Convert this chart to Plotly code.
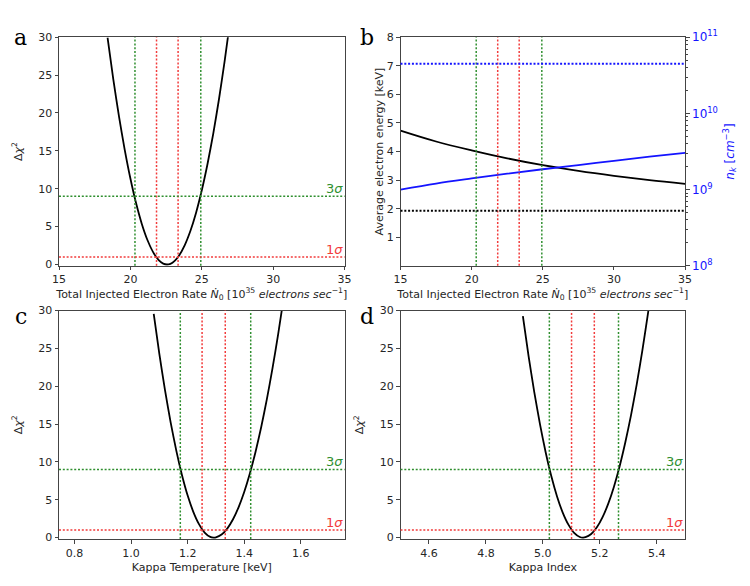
import plotly.graph_objects as go

# ---------------- data ----------------
# panel a: delta chi^2 vs total injected electron rate
rate_a = [18.4, 18.8, 19.2, 19.6, 20.0, 20.4, 20.8, 21.2, 21.6, 22.0, 22.3, 22.56,
          22.8, 23.1, 23.4, 23.8, 24.2, 24.6, 25.0, 25.4, 25.8, 26.2, 26.6, 27.0]
chi2_a = [29.96, 24.47, 19.55, 15.17, 11.35, 8.08, 5.36, 3.20, 1.60, 0.54, 0.12, 0.0,
          0.09, 0.48, 1.16, 2.53, 4.42, 6.84, 9.79, 13.26, 17.25, 21.78, 26.83, 32.40]
sig1_a = [21.83, 23.34]
sig3_a = [20.32, 24.93]

# panel b: average electron energy and n_k vs rate
rate_b = [15, 17.5, 20, 22.5, 25, 27.5, 30, 32.5, 35]
energy_b = [4.73, 4.35, 4.04, 3.76, 3.52, 3.32, 3.15, 3.00, 2.87]
nk_b = [1.00e9, 1.20e9, 1.40e9, 1.62e9, 1.85e9, 2.10e9, 2.38e9, 2.70e9, 3.04e9]
energy_ref_b = 1.93
nk_ref_b = 4.5e10

# panel c: delta chi^2 vs kappa temperature
temp_c = [1.08, 1.10, 1.12, 1.14, 1.16, 1.18, 1.20, 1.22, 1.24, 1.26, 1.28, 1.292,
          1.30, 1.32, 1.34, 1.36, 1.38, 1.40, 1.42, 1.44, 1.46, 1.48, 1.50, 1.52, 1.54]
chi2_c = [29.55, 24.24, 19.45, 15.19, 11.46, 8.25, 5.56, 3.41, 1.78, 0.67, 0.09, 0.0,
          0.03, 0.40, 1.19, 2.39, 4.00, 6.02, 8.46, 11.31, 14.58, 18.26, 22.35, 26.85, 31.77]
sig1_c = [1.251, 1.333]
sig3_c = [1.174, 1.423]

# panel d: delta chi^2 vs kappa index
kappa_d = [4.93, 4.95, 4.97, 4.99, 5.01, 5.03, 5.05, 5.07, 5.09, 5.11, 5.13, 5.141,
           5.15, 5.17, 5.19, 5.21, 5.23, 5.25, 5.27, 5.29, 5.31, 5.33, 5.35, 5.37, 5.38]
chi2_d = [29.27, 23.98, 19.23, 14.99, 11.28, 8.10, 5.44, 3.31, 1.71, 0.63, 0.08, 0.0,
          0.05, 0.48, 1.36, 2.70, 4.49, 6.73, 9.43, 12.59, 16.19, 20.25, 24.76, 29.73, 32.38]
sig1_d = [5.101, 5.181]
sig3_d = [5.023, 5.266]

sigma_levels = [1, 9]
sigma_labels = ["1<i>σ</i>", "3<i>σ</i>"]

# ---------------- styling ----------------
W, H = 750, 586
GREEN = "#2f8f2f"
RED = "#f23b3b"
BLUE = "#1414ff"
FONT = "DejaVu Sans"
TXT = "#262626"
DOT = "2px,1.8px"


def dom_x(x0, x1):
    return [x0 / W, x1 / W]


def dom_y(top, bottom):
    return [1 - bottom / H, 1 - top / H]


fig = go.Figure()

line_k = dict(color="black", width=1.8, shape="spline", smoothing=0.6)
fig.add_trace(go.Scatter(x=rate_a, y=chi2_a, mode="lines", line=line_k, xaxis="x", yaxis="y"))
fig.add_trace(go.Scatter(x=rate_b, y=energy_b, mode="lines", line=dict(color="black", width=1.8, shape="spline"),
                         xaxis="x2", yaxis="y2"))
fig.add_trace(go.Scatter(x=rate_b, y=nk_b, mode="lines", line=dict(color=BLUE, width=1.8, shape="spline"),
                         xaxis="x2", yaxis="y5"))
fig.add_trace(go.Scatter(x=temp_c, y=chi2_c, mode="lines", line=line_k, xaxis="x3", yaxis="y3"))
fig.add_trace(go.Scatter(x=kappa_d, y=chi2_d, mode="lines", line=line_k, xaxis="x4", yaxis="y4"))

shapes = []
annotations = []


def vlines(xs, color, xr, yr):
    for v in xs:
        shapes.append(dict(type="line", xref=xr, yref=yr + " domain", x0=v, x1=v, y0=0, y1=1,
                           line=dict(color=color, width=1.5, dash=DOT)))


def hline(y, color, xr, yr, width=1.5):
    shapes.append(dict(type="line", xref=xr + " domain", yref=yr, x0=0, x1=1, y0=y, y1=y,
                       line=dict(color=color, width=width, dash=DOT)))


for (xr, yr, s1, s3) in [("x", "y", sig1_a, sig3_a), ("x3", "y3", sig1_c, sig3_c), ("x4", "y4", sig1_d, sig3_d)]:
    vlines(s3, GREEN, xr, yr)
    vlines(s1, RED, xr, yr)
    for lvl, lab, col in zip(sigma_levels, sigma_labels, [RED, GREEN]):
        hline(lvl, col, xr, yr)
        annotations.append(dict(xref=xr + " domain", yref=yr, x=1.0, y=lvl, text=lab, showarrow=False,
                                xanchor="right", yanchor="bottom", yshift=-2,
                                font=dict(family=FONT, size=13, color=col)))

vlines(sig3_a, GREEN, "x2", "y2")
vlines(sig1_a, RED, "x2", "y2")
hline(energy_ref_b, "black", "x2", "y2", width=2)
hline(nk_ref_b, BLUE, "x2", "y5", width=2)

# panel letters
for lab, px, py in [("a", 14, 29), ("b", 367, 29), ("c", 14, 316), ("d", 367, 316)]:
    annotations.append(dict(xref="paper", yref="paper", x=px / W, y=1 - py / H, text=lab, showarrow=False,
                            xanchor="center", yanchor="middle",
                            font=dict(family="DejaVu Serif", size=22, color="black")))

axis_common = dict(showline=True, linecolor="#444", linewidth=1, mirror=True, ticks="outside",
                   ticklen=3.5, tickwidth=1, tickcolor="#444", showgrid=False, zeroline=False,
                   tickfont=dict(family=FONT, size=11, color=TXT))
title_font = dict(family=FONT, size=11, color=TXT)

rate_title = ("Total Injected Electron Rate <i>Ṅ</i><sub>0</sub> [10<sup>35</sup> "
              "<i>electrons sec</i><sup>−1</sup>]")
chi_title = "Δ<i>χ</i><sup>2</sup>"

xa_dom = dom_x(53, 344)
xb_dom = dom_x(401, 691)
top_dom = dom_y(29, 264)
bot_dom = dom_y(310, 545)

fig.update_layout(
    width=W, height=H, margin=dict(l=0, r=0, t=0, b=0),
    paper_bgcolor="white", plot_bgcolor="white", showlegend=False,
    font=dict(family=FONT, size=11, color=TXT),
    xaxis=dict(axis_common, domain=xa_dom, anchor="y", range=[15, 35], tickvals=[15, 20, 25, 30, 35],
               title=dict(text=rate_title, font=title_font, standoff=4)),
    yaxis=dict(axis_common, domain=top_dom, anchor="x", range=[-0.17, 30], tickvals=[0, 5, 10, 15, 20, 25, 30],
               title=dict(text=chi_title, font=title_font, standoff=13)),
    xaxis2=dict(axis_common, domain=xb_dom, anchor="y2", range=[15, 35], tickvals=[15, 20, 25, 30, 35],
                title=dict(text=rate_title, font=title_font, standoff=4)),
    yaxis2=dict(axis_common, domain=top_dom, anchor="x2", range=[0, 8], tickvals=[1, 2, 3, 4, 5, 6, 7, 8],
                title=dict(text="Average electron energy [keV]", font=title_font, standoff=0)),
    yaxis5=dict(axis_common, overlaying="y2", anchor="x2", side="right", type="log", range=[8, 11],
                mirror=False, tickvals=[1e8, 1e9, 1e10, 1e11],
                ticktext=["10<sup>8</sup>", "10<sup>9</sup>", "10<sup>10</sup>", "10<sup>11</sup>"],
                tickfont=dict(family=FONT, size=12, color=BLUE),
                minor=dict(ticks="outside", ticklen=2, tickcolor="#444",
                           tickvals=[k * 10 ** e for e in (8, 9, 10) for k in range(2, 10)]),
                title=dict(text="<i>n</i><sub><i>k</i></sub> [<i>cm</i><sup>−3</sup>]",
                           font=dict(family=FONT, size=12, color=BLUE), standoff=8)),
    xaxis3=dict(axis_common, domain=xa_dom, anchor="y3", range=[0.745, 1.755], tickvals=[0.8, 1.0, 1.2, 1.4, 1.6],
                ticktext=["0.8", "1.0", "1.2", "1.4", "1.6"],
                title=dict(text="Kappa Temperature [keV]", font=title_font, standoff=4)),
    yaxis3=dict(axis_common, domain=bot_dom, anchor="x3", range=[-0.2, 30], tickvals=[0, 5, 10, 15, 20, 25, 30],
                title=dict(text=chi_title, font=title_font, standoff=13)),
    xaxis4=dict(axis_common, domain=xb_dom, anchor="y4", range=[4.5, 5.5], tickvals=[4.6, 4.8, 5.0, 5.2, 5.4],
                ticktext=["4.6", "4.8", "5.0", "5.2", "5.4"],
                title=dict(text="Kappa Index", font=title_font, standoff=4)),
    yaxis4=dict(axis_common, domain=bot_dom, anchor="x4", range=[-0.2, 30], tickvals=[0, 5, 10, 15, 20, 25, 30],
                title=dict(text=chi_title, font=title_font, standoff=13)),
    shapes=shapes, annotations=annotations,
)

fig.write_html("out.html")
